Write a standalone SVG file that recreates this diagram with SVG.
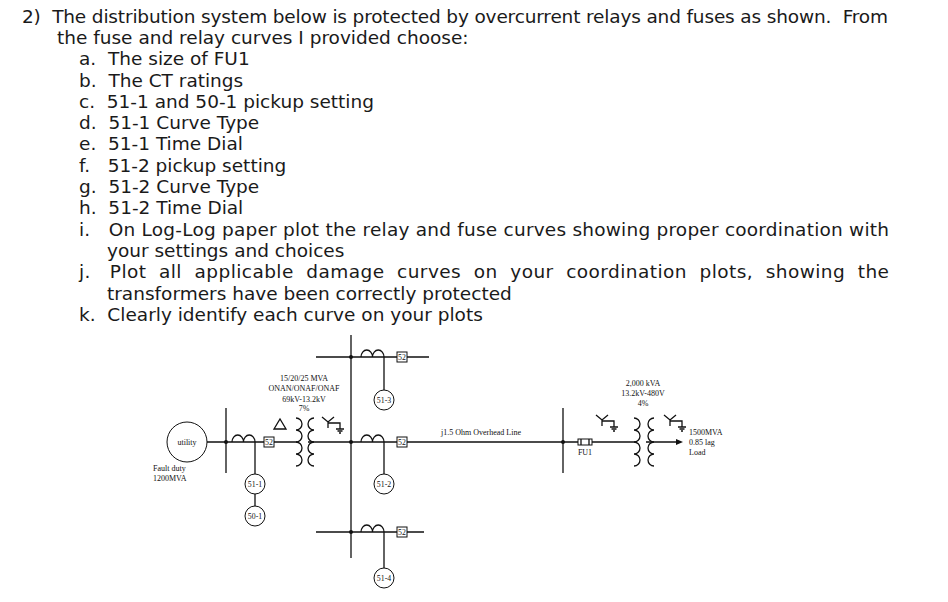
<svg xmlns="http://www.w3.org/2000/svg" width="948" height="602" viewBox="0 0 948 602">
<style>
.q{font-family:"DejaVu Sans",sans-serif;font-size:18.5px;fill:#1a1a1a;white-space:pre}
.s{font-family:"Liberation Serif",serif;font-size:8px;fill:#111}
.b{font-family:"Liberation Serif",serif;font-size:7.8px;fill:#111;text-anchor:middle}
.l{stroke:#111;stroke-width:1.3;fill:none}
.c{stroke:#111;stroke-width:1;fill:#fff}
</style>
<rect width="948" height="602" fill="#fff"/>
<g id="question">
<text class="q" x="22" y="23" textLength="866" lengthAdjust="spacing">2)  The distribution system below is protected by overcurrent relays and fuses as shown.  From</text>
<text class="q" x="57" y="44">the fuse and relay curves I provided choose:</text>
<text class="q" x="79" y="65">a.  The size of FU1</text>
<text class="q" x="79" y="87">b.  The CT ratings</text>
<text class="q" x="79" y="108">c.  51-1 and 50-1 pickup setting</text>
<text class="q" x="79" y="129">d.  51-1 Curve Type</text>
<text class="q" x="79" y="150">e.  51-1 Time Dial</text>
<text class="q" x="79" y="172">f.   51-2 pickup setting</text>
<text class="q" x="79" y="193">g.  51-2 Curve Type</text>
<text class="q" x="79" y="214">h.  51-2 Time Dial</text>
<text class="q" x="79" y="236" textLength="810" lengthAdjust="spacing">i.   On Log-Log paper plot the relay and fuse curves showing proper coordination with</text>
<text class="q" x="107" y="257">your settings and choices</text>
<text class="q" x="79" y="278" textLength="810" lengthAdjust="spacing">j.   Plot  all  applicable  damage  curves  on  your  coordination  plots,  showing  the</text>
<text class="q" x="107" y="300">transformers have been correctly protected</text>
<text class="q" x="79" y="321">k.  Clearly identify each curve on your plots</text>
</g>
<defs>
<path id="ct" d="M0,0 a5.75,7 0 0 1 11.5,0 a5.75,7 0 0 1 11.5,0" class="l"/>
<path id="coilL" d="M0,0 a6,6 0 0 0 0,12 a6,6 0 0 0 0,12 a6,6 0 0 0 0,12 a6,6 0 0 0 0,12" class="l"/>
<path id="coilR" d="M0,0 a6,6 0 0 1 0,12 a6,6 0 0 1 0,12 a6,6 0 0 1 0,12 a6,6 0 0 1 0,12" class="l"/>
<g id="wye"><path d="M-6,-5 L0,0 L6,-5 M0,0 L0,6 M0,1 L12,1 L12,7" class="l" stroke-width="1"/><path d="M8,7 h8 M9.5,9 h5 M11,11 h2" class="l" stroke-width="1"/></g>
</defs>
<g id="connectors">
<path class="l" d="M226,408V473 M207,442H297 M351,335V558 M316,357H429 M308,442H563 M316,532H424 M563,408V473 M563,442H637 M255,442V474 M255,494V506 M384,357V390 M384,442V474 M384,532V568"/>
<path class="l" d="M646,442H680"/><path d="M676,439L683,442L676,445Z" fill="#111"/>
<circle cx="226" cy="442" r="2" fill="#111"/><circle cx="351" cy="357" r="2" fill="#111"/><circle cx="351" cy="442" r="2" fill="#111"/><circle cx="351" cy="532" r="2" fill="#111"/><circle cx="563" cy="442" r="2" fill="#111"/>
</g>
<g id="utility"><circle class="c" cx="187" cy="442" r="20"/><text class="s" x="187" y="445" text-anchor="middle">utility</text>
<text class="s" x="153" y="471">Fault duty</text><text class="s" x="153" y="481">1200MVA</text></g>
<g id="ct1"><use href="#ct" x="232" y="442"/><rect class="c" x="264" y="437" width="10" height="10"/><text class="b" x="269" y="445">52</text></g>
<g id="r51-1"><circle class="c" cx="255" cy="484" r="10"/><text class="b" x="255" y="487">51-1</text></g>
<g id="r50-1"><circle class="c" cx="255" cy="516" r="10"/><text class="b" x="255" y="519">50-1</text></g>
<g id="T1"><use href="#coilR" x="296" y="418"/><use href="#coilL" x="314" y="418"/>
<path d="M274,429L280,419L286,429Z" class="l" stroke-width="1"/><use href="#wye" x="328" y="422"/>
<text class="s" x="304" y="381" text-anchor="middle">15/20/25 MVA</text><text class="s" x="304" y="391" text-anchor="middle">ONAN/ONAF/ONAF</text><text class="s" x="304" y="402" text-anchor="middle">69kV-13.2kV</text><text class="s" x="304" y="411" text-anchor="middle">7%</text></g>
<g id="f3"><use href="#ct" x="361" y="357"/><rect class="c" x="397" y="352" width="10" height="10"/><text class="b" x="402" y="360">52</text><circle class="c" cx="384" cy="400" r="10"/><text class="b" x="384" y="403">51-3</text></g>
<g id="f2"><use href="#ct" x="361" y="442"/><rect class="c" x="397" y="437" width="10" height="10"/><text class="b" x="402" y="445">52</text><circle class="c" cx="384" cy="484" r="10"/><text class="b" x="384" y="487">51-2</text></g>
<g id="f4"><use href="#ct" x="361" y="532"/><rect class="c" x="397" y="527" width="10" height="10"/><text class="b" x="402" y="535">52</text><circle class="c" cx="384" cy="578" r="10"/><text class="b" x="384" y="581">51-4</text></g>
<g id="line"><text class="s" x="441" y="435">j1.5 Ohm Overhead Line</text></g>
<g id="FU1"><rect class="c" x="578" y="439" width="14" height="6"/><path class="l" d="M581,439V445M589,439V445" stroke-width="0.8"/><text class="s" x="585" y="455" text-anchor="middle">FU1</text></g>
<g id="T2"><use href="#coilR" x="634" y="418"/><use href="#coilL" x="654" y="418"/>
<use href="#wye" x="602" y="420"/><use href="#wye" x="670" y="420"/>
<text class="s" x="643" y="386" text-anchor="middle">2,000 kVA</text><text class="s" x="643" y="396" text-anchor="middle">13.2kV-480V</text><text class="s" x="643" y="406" text-anchor="middle">4%</text></g>
<g id="load"><text class="s" x="689" y="435">1500MVA</text><text class="s" x="689" y="445">0.85 lag</text><text class="s" x="689" y="455">Load</text></g>
</svg>
